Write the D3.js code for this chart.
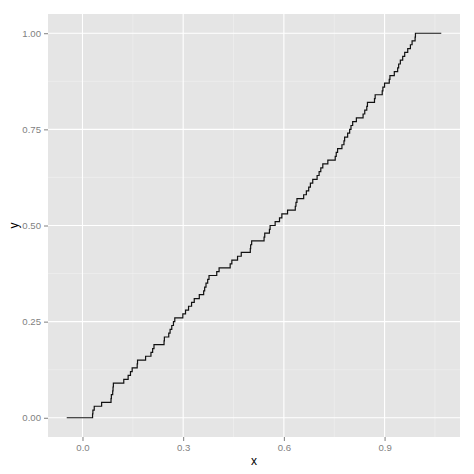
<!DOCTYPE html>
<meta charset="utf-8">
<script src="https://d3js.org/d3.v7.min.js"></script>
<style>
  body { margin: 0; background: #fff; }
  text { font-family: "Liberation Sans", Arial, sans-serif; }
</style>
<div id="chart"></div>
<script>
// sample values (sorted)
var sample = [0.030, 0.031, 0.035, 0.057, 0.085, 0.086, 0.090, 0.091, 0.092, 0.123,
  0.136, 0.143, 0.148, 0.163, 0.164, 0.188, 0.204, 0.209, 0.213, 0.243,
  0.244, 0.257, 0.261, 0.266, 0.271, 0.275, 0.299, 0.307, 0.316, 0.325,
  0.333, 0.348, 0.361, 0.364, 0.368, 0.373, 0.377, 0.400, 0.407, 0.440,
  0.445, 0.462, 0.473, 0.500, 0.501, 0.504, 0.541, 0.543, 0.557, 0.559,
  0.574, 0.587, 0.594, 0.611, 0.634, 0.636, 0.639, 0.659, 0.667, 0.674,
  0.679, 0.686, 0.699, 0.705, 0.710, 0.716, 0.731, 0.753, 0.756, 0.760,
  0.773, 0.779, 0.781, 0.790, 0.796, 0.800, 0.805, 0.816, 0.836, 0.841,
  0.847, 0.849, 0.870, 0.872, 0.893, 0.895, 0.900, 0.914, 0.916, 0.929,
  0.939, 0.942, 0.947, 0.954, 0.960, 0.969, 0.977, 0.982, 0.991, 0.992];
var xTicks = [0, 0.3, 0.6, 0.9];
var xMinor = [0.15, 0.45, 0.75, 1.05];
var yTicks = [0, 0.25, 0.5, 0.75, 1];
var yMinor = [0.125, 0.375, 0.625, 0.875];

var W = 474, H = 474;
var margin = {top: 14, right: 14, bottom: 37, left: 48};
var width = W - margin.left - margin.right,
    height = H - margin.top - margin.bottom;

// ecdf like old stat_ecdf: pad 8% of range on both ends
var n = sample.length;
var dr = 0.08 * (d3.max(sample) - d3.min(sample));
var pts = [{x: d3.min(sample) - dr, y: 0}];
sample.forEach(function(v, i) { pts.push({x: v, y: (i + 1) / n}); });
pts.push({x: d3.max(sample) + dr, y: 1});

var xr = d3.extent(pts, d => d.x), xe = 0.05 * (xr[1] - xr[0]);
var x = d3.scaleLinear().domain([xr[0] - xe, xr[1] + xe]).range([0, width]);
var y = d3.scaleLinear().domain([-0.05, 1.05]).range([height, 0]);

var svg = d3.select("#chart").append("svg")
    .attr("width", W).attr("height", H);
var g = svg.append("g")
    .attr("transform", "translate(" + margin.left + "," + margin.top + ")");

g.append("rect").attr("width", width).attr("height", height).attr("fill", "#e5e5e5");

// minor grid
g.selectAll(".xminor").data(xMinor.filter(v => v <= x.domain()[1])).enter().append("line")
    .attr("x1", d => x(d)).attr("x2", d => x(d)).attr("y1", 0).attr("y2", height)
    .attr("stroke", "#f2f2f2").attr("stroke-width", 0.6);
g.selectAll(".yminor").data(yMinor).enter().append("line")
    .attr("y1", d => y(d)).attr("y2", d => y(d)).attr("x1", 0).attr("x2", width)
    .attr("stroke", "#f2f2f2").attr("stroke-width", 0.6);
// major grid
g.selectAll(".xmajor").data(xTicks).enter().append("line")
    .attr("x1", d => x(d)).attr("x2", d => x(d)).attr("y1", 0).attr("y2", height)
    .attr("stroke", "#fff").attr("stroke-width", 1.1);
g.selectAll(".ymajor").data(yTicks).enter().append("line")
    .attr("y1", d => y(d)).attr("y2", d => y(d)).attr("x1", 0).attr("x2", width)
    .attr("stroke", "#fff").attr("stroke-width", 1.1);

// axes
var xAxis = g.append("g").attr("transform", "translate(0," + height + ")")
    .call(d3.axisBottom(x).tickValues(xTicks).tickFormat(d3.format(".1f")).tickSize(4).tickPadding(3));
var yAxis = g.append("g")
    .call(d3.axisLeft(y).tickValues(yTicks).tickFormat(d3.format(".2f")).tickSize(4).tickPadding(3));
[xAxis, yAxis].forEach(function(a) {
  a.select(".domain").remove();
  a.selectAll(".tick line").attr("stroke", "#7f7f7f");
  a.selectAll(".tick text").attr("fill", "#7f7f7f").style("font-size", "9.6px");
});

// ecdf step line
var line = d3.line().x(d => x(d.x)).y(d => y(d.y)).curve(d3.curveStepAfter);
g.append("path").datum(pts).attr("d", line)
    .attr("fill", "none").attr("stroke", "#111").attr("stroke-width", 1.2);

// axis titles
svg.append("text").attr("x", margin.left + width / 2).attr("y", H - 9)
    .attr("text-anchor", "middle").style("font-size", "12px").text("x");
svg.append("text")
    .attr("transform", "translate(18," + (margin.top + height / 2) + ") rotate(-90)")
    .attr("text-anchor", "middle").style("font-size", "12px").text("y");
</script>
